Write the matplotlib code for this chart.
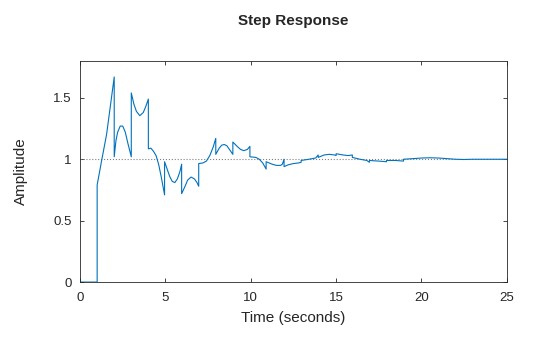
import numpy as np
import matplotlib
matplotlib.use("Agg")
from matplotlib import pyplot as plt

plt.rcParams['font.family'] = ['Liberation Sans', 'DejaVu Sans']

# step response samples; repeated times mark the jumps at each delay instant
t = [0, 1, 1, 1.25, 1.55, 1.8, 2.0,
     2.0, 2.1, 2.2, 2.35, 2.5, 2.65, 2.8, 3.0,
     3.0, 3.15, 3.3, 3.5, 3.7, 3.85, 4.0,
     4.0, 4.15, 4.3, 4.45, 4.6, 4.75, 4.95,
     4.95, 5.1, 5.25, 5.4, 5.55, 5.7, 5.85, 5.95,
     5.95, 6.15, 6.3, 6.5, 6.7, 6.85, 6.95,
     6.95, 7.2, 7.4, 7.6, 7.8, 7.95,
     7.95, 8.15, 8.3, 8.45, 8.6, 8.75, 8.95,
     8.95, 9.2, 9.4, 9.6, 9.8, 9.95,
     9.95, 10.3, 10.5, 10.7, 10.9,
     10.9, 11.25, 11.5, 11.75, 11.85, 11.95,
     11.95, 12.2, 12.5, 12.8, 12.95,
     12.95, 13.4, 13.8, 13.95,
     13.95, 14.3, 14.6, 14.9, 15.0,
     15.0, 15.4, 15.7, 15.95,
     15.95, 16.4, 16.8, 16.95,
     16.95, 17.5, 17.95,
     17.95, 18.5, 18.95,
     18.95, 19.5, 20.0, 20.5, 21.0, 21.5, 22.0, 22.5, 23.0, 24.0, 25.0]
y = [0, 0, 0.79, 0.98, 1.2, 1.46, 1.67,
     1.02, 1.15, 1.22, 1.27, 1.27, 1.22, 1.13, 1.02,
     1.54, 1.45, 1.39, 1.355, 1.38, 1.43, 1.49,
     1.085, 1.09, 1.065, 1.03, 0.96, 0.86, 0.71,
     0.98, 0.92, 0.86, 0.82, 0.81, 0.84, 0.9, 0.96,
     0.72, 0.78, 0.83, 0.855, 0.84, 0.81, 0.78,
     0.965, 0.97, 0.985, 1.03, 1.1, 1.17,
     1.04, 1.09, 1.115, 1.12, 1.11, 1.08, 1.04,
     1.14, 1.105, 1.08, 1.07, 1.08, 1.105,
     1.02, 1.015, 1.0, 0.97, 0.92,
     0.98, 0.96, 0.95, 0.95, 0.96, 1.0,
     0.94, 0.955, 0.965, 0.97, 0.975,
     0.99, 1.0, 1.01, 1.035,
     1.015, 1.035, 1.04, 1.035, 1.03,
     1.045, 1.035, 1.03, 1.035,
     1.015, 1.0, 0.99, 0.975,
     0.99, 0.985, 0.98,
     0.99, 0.99, 0.985,
     1.0, 1.005, 1.01, 1.012, 1.01, 1.005, 1.0, 0.998, 1.0, 1.0, 1.0]
final_value = 1.0

xticks = [0, 5, 10, 15, 20, 25]
yticks = [0, 0.5, 1, 1.5]
ytick_labels = ['0', '0.5', '1', '1.5']

fig = plt.figure(figsize=(5.6, 3.37), dpi=100)
ax = fig.add_axes([0.143, 0.163, 0.762, 0.656])

ax.plot([0, 25], [final_value, final_value], color='#808080', linestyle=':', linewidth=0.8)
ax.plot(t, y, color='#0072BD', linewidth=0.8)

ax.set_xlim(0, 25)
ax.set_ylim(0, 1.8)
ax.set_xticks(xticks)
ax.set_yticks(yticks)
ax.set_yticklabels(ytick_labels)
ax.tick_params(direction='in', length=3, width=0.6, top=True, right=True,
               labelsize=9.5, colors='#262626')
ax.tick_params(axis='x', pad=7)
ax.tick_params(axis='y', pad=6)
for s in ax.spines.values():
    s.set_linewidth(0.6)
    s.set_color('#262626')

ax.set_xlabel('Time (seconds)', fontsize=11, color='#262626', labelpad=5)
ax.set_ylabel('Amplitude', fontsize=11, color='#262626', labelpad=18)
ax.set_title('Step Response', fontsize=11, fontweight='bold', color='#262626', pad=26)

fig.savefig('out.png', dpi=100)
